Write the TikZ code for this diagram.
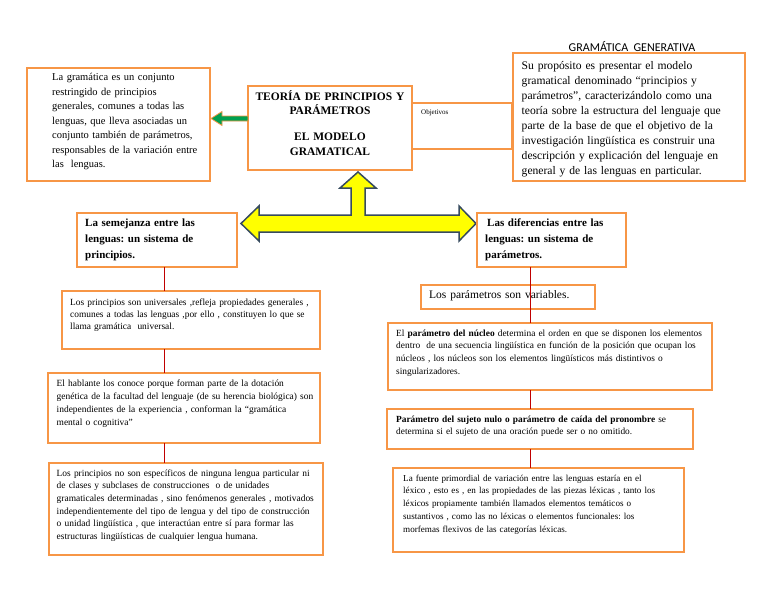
\documentclass[tikz,border=0pt]{standalone}
\usepackage{fontspec}
\setmainfont{Liberation Serif}
\newfontfamily\titlefont{Carlito}
\frenchspacing
\definecolor{boxorange}{RGB}{247,150,70}
\definecolor{linkred}{RGB}{192,0,0}
\definecolor{arrowyellow}{RGB}{255,255,0}
\definecolor{arrowedge}{RGB}{55,75,95}
\definecolor{arrowgreen}{RGB}{0,160,80}
\begin{document}
\begin{tikzpicture}[x=1pt,y=-1pt,
  box/.style={draw=boxorange,line width=1.8pt,fill=white,inner sep=0pt,outer sep=0pt,anchor=north west},
  txt/.style={inner sep=0pt,anchor=base west,align=left,text width=340pt},
  link/.style={draw=linkred,line width=0.9pt}]
\useasboundingbox[fill=white] (0,0) rectangle (768,594);

% title
\node[inner sep=0pt,font=\titlefont\fontsize{12}{14}\selectfont] (title) at (632,47) {GRAMÁTICA\ \ GENERATIVA};

% top boxes
\node[box,minimum width=183pt,minimum height=113pt] (lt) at (27,68) {};
\node[box,minimum width=164pt,minimum height=84pt] (ctr) at (248,86) {};
\node[box,minimum width=100pt,minimum height=46pt] (obj) at (412,103) {};
\node[box,minimum width=232pt,minimum height=128pt] (rt) at (513,53) {};

\node[txt,font=\fontsize{10.5}{14.45}\selectfont] (ltt) at (52,81) {La gramática es un conjunto\\restringido de principios\\generales, comunes a todas las\\lenguas, que lleva asociadas un\\conjunto también de parámetros,\\responsables de la variación entre\\las\ \ lenguas.};
\node[inner sep=0pt,anchor=base,align=center,text width=200pt,font=\bfseries\fontsize{11.5}{14.5}\selectfont] (ctrt) at (330,100) {TEORÍA DE PRINCIPIOS Y\\PARÁMETROS\\[11.5pt]EL MODELO\\GRAMATICAL};
\node[txt,font=\fontsize{7}{8}\selectfont] (objt) at (421,114) {Objetivos};
\node[txt,font=\fontsize{11.6}{14.9}\selectfont] (rtt) at (521.5,70) {Su propósito es presentar el modelo\\gramatical denominado “principios y\\parámetros”, caracterizándolo como una\\teoría sobre la estructura del lenguaje que\\parte de la base de que el objetivo de la\\investigación lingüística es construir una\\descripción y explicación del lenguaje en\\general y de las lenguas en particular.};

% green arrow
\path[fill=arrowgreen,draw=boxorange,line width=0.8pt] (211,118.5) -- (222,111.5) -- (222,116) -- (ctr.west |- 0,116) -- (ctr.west |- 0,121) -- (222,121) -- (222,125.5) -- cycle;

% yellow arrow
\path[fill=arrowyellow,draw=arrowedge,line width=1.5pt,line join=miter]
 (358,172) -- (376,188) -- (365,188) -- (365,215) -- (459,215) -- (459,206) -- (476,223.5) -- (459,241) -- (459,232) -- (259,232) -- (259,241) -- (241,223.5) -- (259,206) -- (259,215) -- (351,215) -- (351,188) -- (340,188) -- cycle;

% middle boxes
\node[box,minimum width=160pt,minimum height=54pt] (lm) at (77,213) {};
\node[box,minimum width=149pt,minimum height=54pt] (rm) at (477,213) {};
\node[txt,font=\bfseries\fontsize{11}{16}\selectfont] (lmt) at (85,226.5) {La semejanza entre las\\lenguas: un sistema de\\principios.};
\node[txt,font=\bfseries\fontsize{11}{16}\selectfont] (rmt) at (485,226.5) {\hspace{2pt}Las diferencias entre las\\lenguas: un sistema de\\parámetros.};

% left column
\node[box,minimum width=258pt,minimum height=58pt] (lb1) at (62,291) {};
\node[box,minimum width=272pt,minimum height=70pt] (lb2) at (48,373) {};
\node[box,minimum width=274pt,minimum height=92pt] (lb3) at (49,463) {};
\node[txt,font=\fontsize{9.4}{12}\selectfont] (lb1t) at (70,305) {Los principios son universales ,refleja propiedades generales ,\\comunes a todas las lenguas ,por ello , constituyen lo que se\\llama gramática\ \ universal.};
\node[txt,font=\fontsize{9.45}{13}\selectfont] (lb2t) at (56.5,386.5) {El hablante los conoce porque forman parte de la dotación\\genética de la facultad del lenguaje (de su herencia biológica) son\\independientes de la experiencia , conforman la “gramática\\mental o cognitiva”};
\node[txt,font=\fontsize{9.45}{12.7}\selectfont] (lb3t) at (56.5,476) {Los principios no son específicos de ninguna lengua particular ni\\de clases y subclases de construcciones\ \ o de unidades\\gramaticales determinadas , sino fenómenos generales , motivados\\independientemente del tipo de lengua y del tipo de construcción\\o unidad lingüística , que interactúan entre sí para formar las\\estructuras lingüísticas de cualquier lengua humana.};

% right column
\node[box,minimum width=174pt,minimum height=24pt] (rb1) at (421,285) {};
\node[box,minimum width=324pt,minimum height=67pt] (rb2) at (388,323) {};
\node[box,minimum width=306pt,minimum height=40pt] (rb3) at (387,409) {};
\node[box,minimum width=291pt,minimum height=84pt] (rb4) at (393,468) {};
\node[txt,font=\fontsize{11.5}{14}\selectfont] (rb1t) at (429,298.5) {Los parámetros son variables.};
\node[txt,font=\fontsize{9.4}{12.9}\selectfont] (rb2t) at (396,336) {El \textbf{parámetro del núcleo} determina el orden en que se disponen los elementos\\dentro\ \ de una secuencia lingüística en función de la posición que ocupan los\\núcleos , los núcleos son los elementos lingüísticos más distintivos o\\singularizadores.};
\node[txt,font=\fontsize{9.35}{12.7}\selectfont] (rb3t) at (396,422) {\textbf{Parámetro del sujeto nulo o parámetro de caída del pronombre} se\\determina si el sujeto de una oración puede ser o no omitido.};
\node[txt,font=\fontsize{9.1}{12.9}\selectfont] (rb4t) at (403,481) {La fuente primordial de variación entre las lenguas estaría en el\\léxico , esto es , en las propiedades de las piezas léxicas , tanto los\\léxicos propiamente también llamados elementos temáticos o\\sustantivos , como las no léxicas o elementos funcionales: los\\morfemas flexivos de las categorías léxicas.};

% red connectors
\coordinate (lx) at (164,0);
\coordinate (rx) at (530,0);
\draw[link] (lm.south -| lx) -- (lb1.north -| lx);
\draw[link] (lb1.south -| lx) -- (lb2.north -| lx);
\draw[link] (lb2.south -| lx) -- (lb3.north -| lx);
\draw[link] (rm.south -| rx) -- (rb2.north -| rx);
\draw[link] (rb2.south -| rx) -- (rb3.north -| rx);
\draw[link] (rb3.south -| rx) -- (rb4.north -| rx);
\end{tikzpicture}
\end{document}
